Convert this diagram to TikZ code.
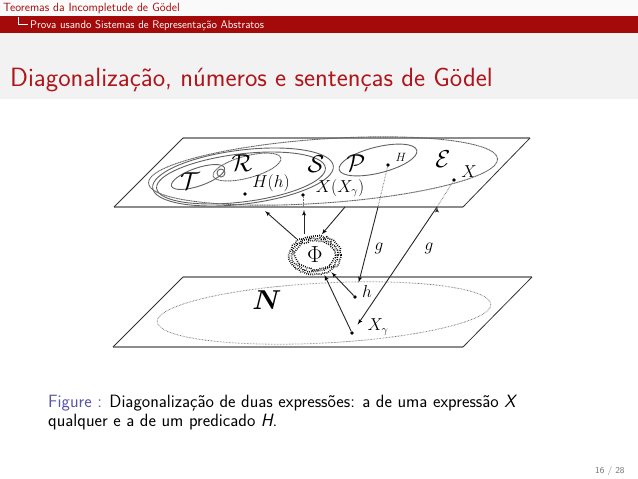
\documentclass[tikz,border=0pt]{standalone}
\usepackage{amsmath,amssymb}
\usepackage{xcolor}
\usetikzlibrary{arrows, shapes.geometric, decorations.pathmorphing}

\definecolor{barred}{RGB}{165,10,10}
\definecolor{titlered}{RGB}{175,22,28}
\definecolor{capblue}{RGB}{85,85,170}
\definecolor{bandgray}{RGB}{242,242,242}

\begin{document}
\begin{tikzpicture}[x=1pt, y=-1pt, font=\sffamily,
    txt/.style={inner sep=0pt, anchor=base west},
    dot/.style={circle, fill=black, inner sep=0pt, minimum size=3.8pt},
    setname/.style={font=\fontsize{20.74}{22}\selectfont, scale=1.18, inner sep=0pt},
    lbl/.style={font=\fontsize{16}{16}\selectfont, inner sep=0pt},
    edgeline/.style={draw=black!45, line width=1.6pt},
    sideline/.style={draw=black!80, line width=0.8pt},
    setline/.style={draw=black!62, line width=0.9pt},
    dotline/.style={draw=black!55, line width=0.8pt, dash pattern=on 0.6pt off 0.9pt},
    map/.style={-latex', draw=black!85, line width=0.9pt},
    blob/.style={draw=black, line width=1.7pt, dash pattern=on 0.8pt off 1.3pt,
      decorate, decoration={random steps, segment length=2.5pt, amplitude=1.2pt}}]

  \fill[white] (0,0) rectangle (638,479);
  \useasboundingbox (0,0) rectangle (638,479);
  \fill[black!2] (0,0) rectangle (638,16);
  \fill[barred] (0,16) rectangle (638,33);
  \fill[bandgray] (0,33) rectangle (638,99);

  \node[txt, text=barred, font=\sffamily\fontsize{11.9}{13}\selectfont] (section) at (3,11) {Teoremas da Incompletude de Gödel};
  \node[txt, text=white, font=\sffamily\fontsize{11.1}{13}\selectfont] (subsection) at (30,28.5) {Prova usando Sistemas de Representação Abstratos};
  \draw[white, line width=0.5pt] (18,17) |- (28,24);
  \node[txt, text=titlered, font=\sffamily\fontsize{26.4}{30}\selectfont] (title) at (10,86) {Diagonalização, números e sentenças de Gödel};

  \coordinate (tl1) at (183,138);
  \coordinate (tr1) at (530,138);
  \coordinate (br1) at (463,207);
  \coordinate (bl1) at (114,207);
  \coordinate (tl2) at (183,277);
  \coordinate (tr2) at (532,277);
  \coordinate (br2) at (463,347);
  \coordinate (bl2) at (113,347);

  \draw[edgeline] (tl1) -- (tr1) (bl1) -- (br1);
  \draw[sideline] (tl1) -- (bl1) (tr1) -- (br1);
  \draw[edgeline] (tl2) -- (tr2) (bl2) -- (br2);
  \draw[sideline] (tl2) -- (bl2) (tr2) -- (br2);

  \draw[setline, dash pattern=on 1.2pt off 0.5pt] [shift={(323,171)}, rotate=4] (0,0) ellipse [x radius=175, y radius=32];
  \draw[setline] [shift={(243,177)}, rotate=7] (0,0) ellipse [x radius=91, y radius=27];
  \draw[setline] [shift={(241,178)}, rotate=7] (0,0) ellipse [x radius=85, y radius=24];
  \draw[setline] [shift={(198,177)}, rotate=19] (0,0) ellipse [x radius=28, y radius=9];
  \draw[setline, dash pattern=on 1.2pt off 0.5pt] [shift={(247,167)}, rotate=15] (0,0) ellipse [x radius=35, y radius=11];
  \draw[setline] (221,173) circle [radius=4];
  \draw[setline] [shift={(378,160)}, rotate=14] (0,0) ellipse [x radius=40, y radius=13];
  \draw[dotline] [shift={(324,313)}, rotate=3] (0,0) ellipse [x radius=167, y radius=30];

  \node[setname] (Tset) at (190,181) {$\mathcal{T}$};
  \node[setname] (Rset) at (242,163) {$\mathcal{R}$};
  \node[setname] (Sset) at (316,164) {$\mathcal{S}$};
  \node[setname] (Pset) at (356,163) {$\mathcal{P}$};
  \node[setname] (Eset) at (443,159) {$\mathcal{E}$};
  \node[font=\fontsize{24.88}{26}\selectfont, scale=1.1] (Nset) at (267,300) {$\boldsymbol{N}$};

  \node[dot] (Hh) at (245,194) {};
  \node[lbl] (Hhlab) at (271,183) {$H(h)$};
  \node[dot] (XX) at (303,195) {};
  \node[lbl] (XXlab) at (340,188) {$X(X_\gamma)$};
  \node[dot] (Hp) at (388,165) {};
  \node[lbl, font=\fontsize{13}{13}\selectfont] (Hplab) at (401,157) {$H$};
  \node[dot] (Xe) at (454,180) {};
  \node[lbl] (Xelab) at (469,172) {$X$};
  \node[dot] (h) at (355,297) {};
  \node[lbl] (hlab) at (367,291) {$h$};
  \node[dot] (Xg) at (352,333) {};
  \node[lbl] (Xglab) at (378,327) {$X_\gamma$};
  \node[lbl, font=\fontsize{19}{19}\selectfont] (g1) at (379,248) {$g$};
  \node[lbl, font=\fontsize{19}{19}\selectfont] (g2) at (429,248) {$g$};

  \node[ellipse, minimum width=56pt, minimum height=42pt, inner sep=0pt, font=\fontsize{20.74}{22}\selectfont] (phi) at (315,255) {\scalebox{1.12}{$\Phi$}};
  \draw[blob] (phi.center) ellipse [x radius=26, y radius=19];
  \draw[blob] (phi.center) ellipse [x radius=23, y radius=16.5];
  \draw[blob] (phi.center) ellipse [x radius=20.5, y radius=14.5];

  \coordinate (a1) at (265,211);
  \coordinate (a2) at (304,210);
  \coordinate (a3) at (345,207);
  \coordinate (XXfoot) at (303,207);
  \coordinate (gh) at (378,207);
  \coordinate (gx) at (437,207);

  \draw[dotline] (XX) -- (XXfoot);
  \draw[dotline] (Hp) -- (gh);
  \draw[dotline] (Xe) -- (gx);

  \path[map] (phi) edge (a1)
    (phi.north -| a2) edge (a2)
    (a3) edge (phi.72)
    (h) edge (phi)
    (Xg) edge (phi)
    (gh) edge[shorten >=13pt] (h)
    (gx) edge[shorten >=8pt] (Xg);

  \node[txt, font=\sffamily\fontsize{17.8}{20}\selectfont] (cap1) at (48,407) {\textcolor{capblue}{Figure :} Diagonalização de duas expressões: a de uma expressão \textit{X}};
  \node[txt, font=\sffamily\fontsize{17.8}{20}\selectfont] (cap2) at (48,426) {qualquer e a de um predicado \textit{H}.};
  \node[txt, text=black!55, font=\sffamily\fontsize{9}{10}\selectfont] (page) at (595,473) {16 / 28};
\end{tikzpicture}
\end{document}
